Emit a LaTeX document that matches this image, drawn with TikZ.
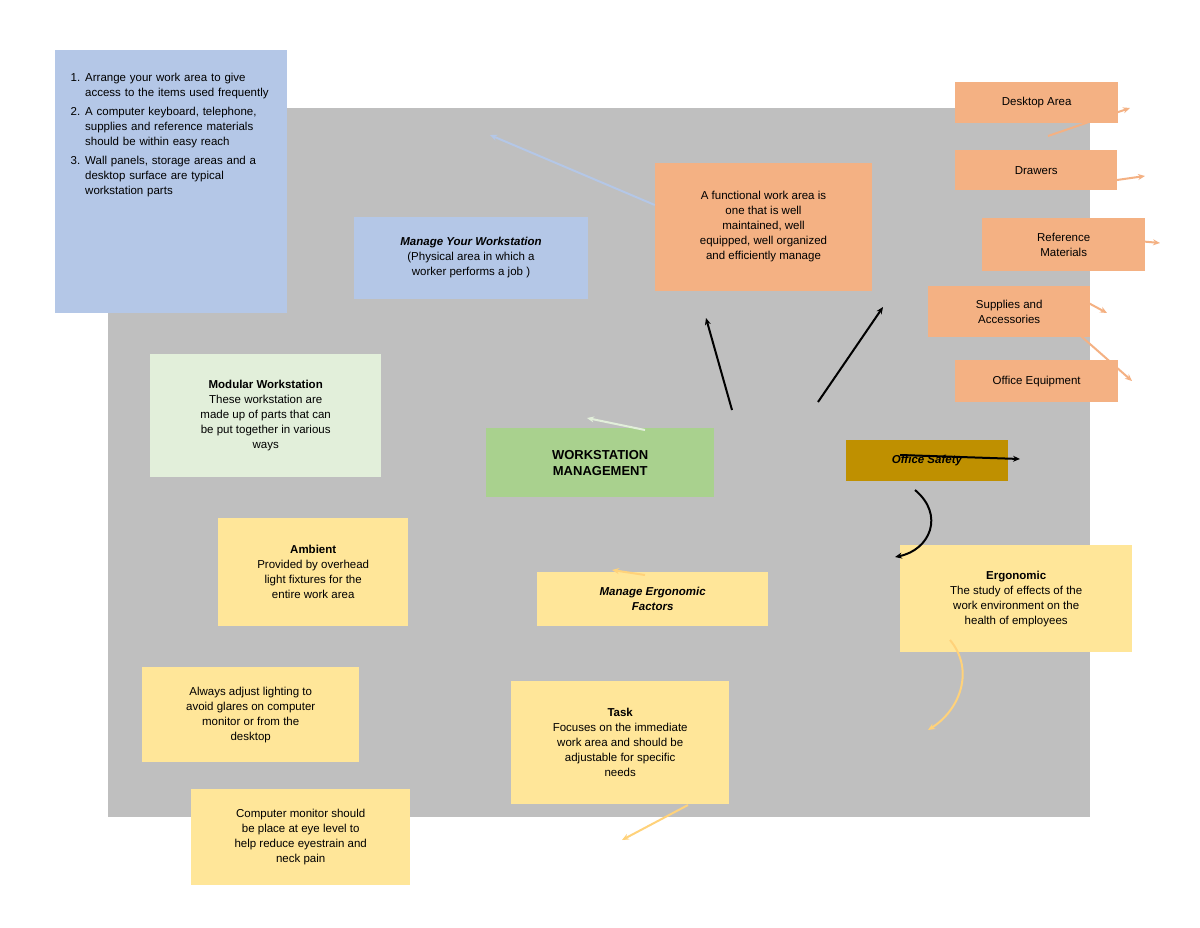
\documentclass[tikz,border=0pt]{standalone}
\usepackage{fontspec}
\setmainfont{Liberation Sans}
\usetikzlibrary{arrows.meta,positioning}
\definecolor{panel}{HTML}{BFBFBF}
\definecolor{bluebox}{HTML}{B4C7E7}
\definecolor{orangebox}{HTML}{F4B183}
\definecolor{greenlight}{HTML}{E2EFDA}
\definecolor{greenbox}{HTML}{A9D18E}
\definecolor{goldbox}{HTML}{BF9000}
\definecolor{yellowbox}{HTML}{FFE699}
\tikzset{
  box/.style={draw=none, inner sep=2pt, align=center, font=\fontsize{11.5}{15}\selectfont},
  blue box/.style={box, fill=bluebox},
  orange box/.style={box, fill=orangebox},
  yellow box/.style={box, fill=yellowbox},
  thin arrow/.style={-{Stealth[length=7pt,width=6pt]}, line width=2pt},
}
\newcommand{\boxat}[6]{% name, style, x1, y1, x2, y2
  \path[#2] (#3,#4) rectangle (#5,#6);
  \coordinate (#1) at ({(#3+#5)/2},{(#4+#6)/2});}
\begin{document}
\begin{tikzpicture}[x=1pt, y=-1pt]
  \useasboundingbox (0,0) rectangle (1200,927);
  \fill[white] (0,0) rectangle (1200,927);
  % Panel
  \fill[panel] (108,108) rectangle (1090,817);

  % Blue boxes
  \fill[bluebox] (55,50) rectangle (287,313);
  \node[box, anchor=north west, text width=210pt, align=left] (steps) at (58,56)
    {\begin{enumerate}\setlength{\itemsep}{0pt}\setlength{\parsep}{0pt}\setlength{\topsep}{0pt}\setlength{\leftmargin}{24pt}
     \item Arrange your work area to give access to the items used frequently
     \item A computer keyboard, telephone, supplies and reference materials should be within easy reach
     \item Wall panels, storage areas and a desktop surface are typical workstation parts
     \end{enumerate}};
  \node[blue box, minimum width=234pt, minimum height=82pt] (manage) at (471,258)
    {\textbf{\textit{Manage Your Workstation}}\\(Physical area in which a\\worker performs a job )};

  % Orange boxes
  \node[orange box, minimum width=217pt, minimum height=128pt] (functional) at (763.5,227)
    {A functional work area is\\one that is well\\maintained, well\\equipped, well organized\\and efficiently manage};
  \node[orange box, minimum width=163pt, minimum height=41pt, anchor=north west] (desktop) at (955,82) {Desktop Area};
  \node[orange box, minimum width=162pt, minimum height=40pt, anchor=north west] (drawers) at (955,150) {Drawers};
  \node[orange box, minimum width=163pt, minimum height=53pt, anchor=north west] (reference) at (982,218) {Reference\\Materials};
  \node[orange box, minimum width=162pt, minimum height=51pt, anchor=north west] (supplies) at (928,286) {Supplies and\\Accessories};
  \node[orange box, minimum width=163pt, minimum height=42pt, anchor=north west] (equipment) at (955,360) {Office Equipment};

  % Green boxes
  \node[box, fill=greenlight, minimum width=231pt, minimum height=123pt, anchor=north west] (modular) at (150,354)
    {\textbf{Modular Workstation}\\These workstation are\\made up of parts that can\\be put together in various\\ways};
  \node[box, fill=greenbox, minimum width=228pt, minimum height=69pt, anchor=north west,
        font=\fontsize{13}{16}\selectfont\bfseries] (main) at (486,428) {WORKSTATION\\MANAGEMENT};
  \node[box, fill=goldbox, minimum width=162pt, minimum height=41pt, anchor=north west] (safety) at (846,440)
    {\textbf{\textit{Office Safety}}};

  % Yellow boxes
  \node[yellow box, minimum width=190pt, minimum height=108pt, anchor=north west] (ambient) at (218,518)
    {\textbf{Ambient}\\Provided by overhead\\light fixtures for the\\entire work area};
  \node[yellow box, minimum width=231pt, minimum height=54pt, anchor=north west] (ergofactors) at (537,572)
    {\textbf{\textit{Manage Ergonomic}}\\\textbf{\textit{Factors}}};
  \node[yellow box, minimum width=232pt, minimum height=107pt, anchor=north west] (ergonomic) at (900,545)
    {\textbf{Ergonomic}\\The study of effects of the\\work environment on the\\health of employees};
  \node[yellow box, minimum width=217pt, minimum height=95pt, anchor=north west] (lighting) at (142,667)
    {Always adjust lighting to\\avoid glares on computer\\monitor or from the\\desktop};
  \node[yellow box, minimum width=218pt, minimum height=123pt, anchor=north west] (task) at (511,681)
    {\textbf{Task}\\Focuses on the immediate\\work area and should be\\adjustable for specific\\needs};
  \node[yellow box, minimum width=219pt, minimum height=96pt, anchor=north west] (monitor) at (191,789)
    {Computer monitor should\\be place at eye level to\\help reduce eyestrain and\\neck pain};

  % Arrow ends
  \coordinate (a1) at (490,135);
  \coordinate (a2) at (706,318);
  \coordinate (a3) at (883,307);
  \coordinate (o1) at (1130,108);
  \coordinate (o2) at (1145,176);
  \coordinate (o3) at (1160,243);
  \coordinate (o4) at (1107,313);
  \coordinate (o5) at (1132,381);
  \coordinate (g1) at (587,418);
  \coordinate (s1) at (1020,459);
  \coordinate (e1) at (895,557);
  \coordinate (y1) at (928,730);
  \coordinate (y2) at (612,570);
  \coordinate (y3) at (622,840);

  % Connectors
  \draw[thin arrow, bluebox] (functional.west |- 0,205) -- (a1);
  \draw[thin arrow, black] (732,410) -- (a2);
  \draw[thin arrow, black] (818,402) -- (a3);
  \draw[thin arrow, orangebox] (1048,136) -- (o1);
  \draw[thin arrow, orangebox] (1068,187) -- (o2);
  \draw[thin arrow, orangebox] (1105,238) -- (o3);
  \draw[thin arrow, orangebox] (1070,293) -- (o4);
  \draw[thin arrow, orangebox] (1065,322) -- (o5);
  \draw[thin arrow, greenlight] (645,430) -- (g1);
  \draw[thin arrow, black] (900,455) -- (s1);
  \draw[thin arrow, black] (915,490) .. controls (945,515) and (930,550) .. (e1);
  \draw[thin arrow, yellowbox!80!orange] (950,640) .. controls (975,670) and (960,710) .. (y1);
  \draw[thin arrow, yellowbox!80!orange] (645,575) -- (y2);
  \draw[thin arrow, yellowbox!80!orange] (688,805) -- (y3);
\end{tikzpicture}
\end{document}
